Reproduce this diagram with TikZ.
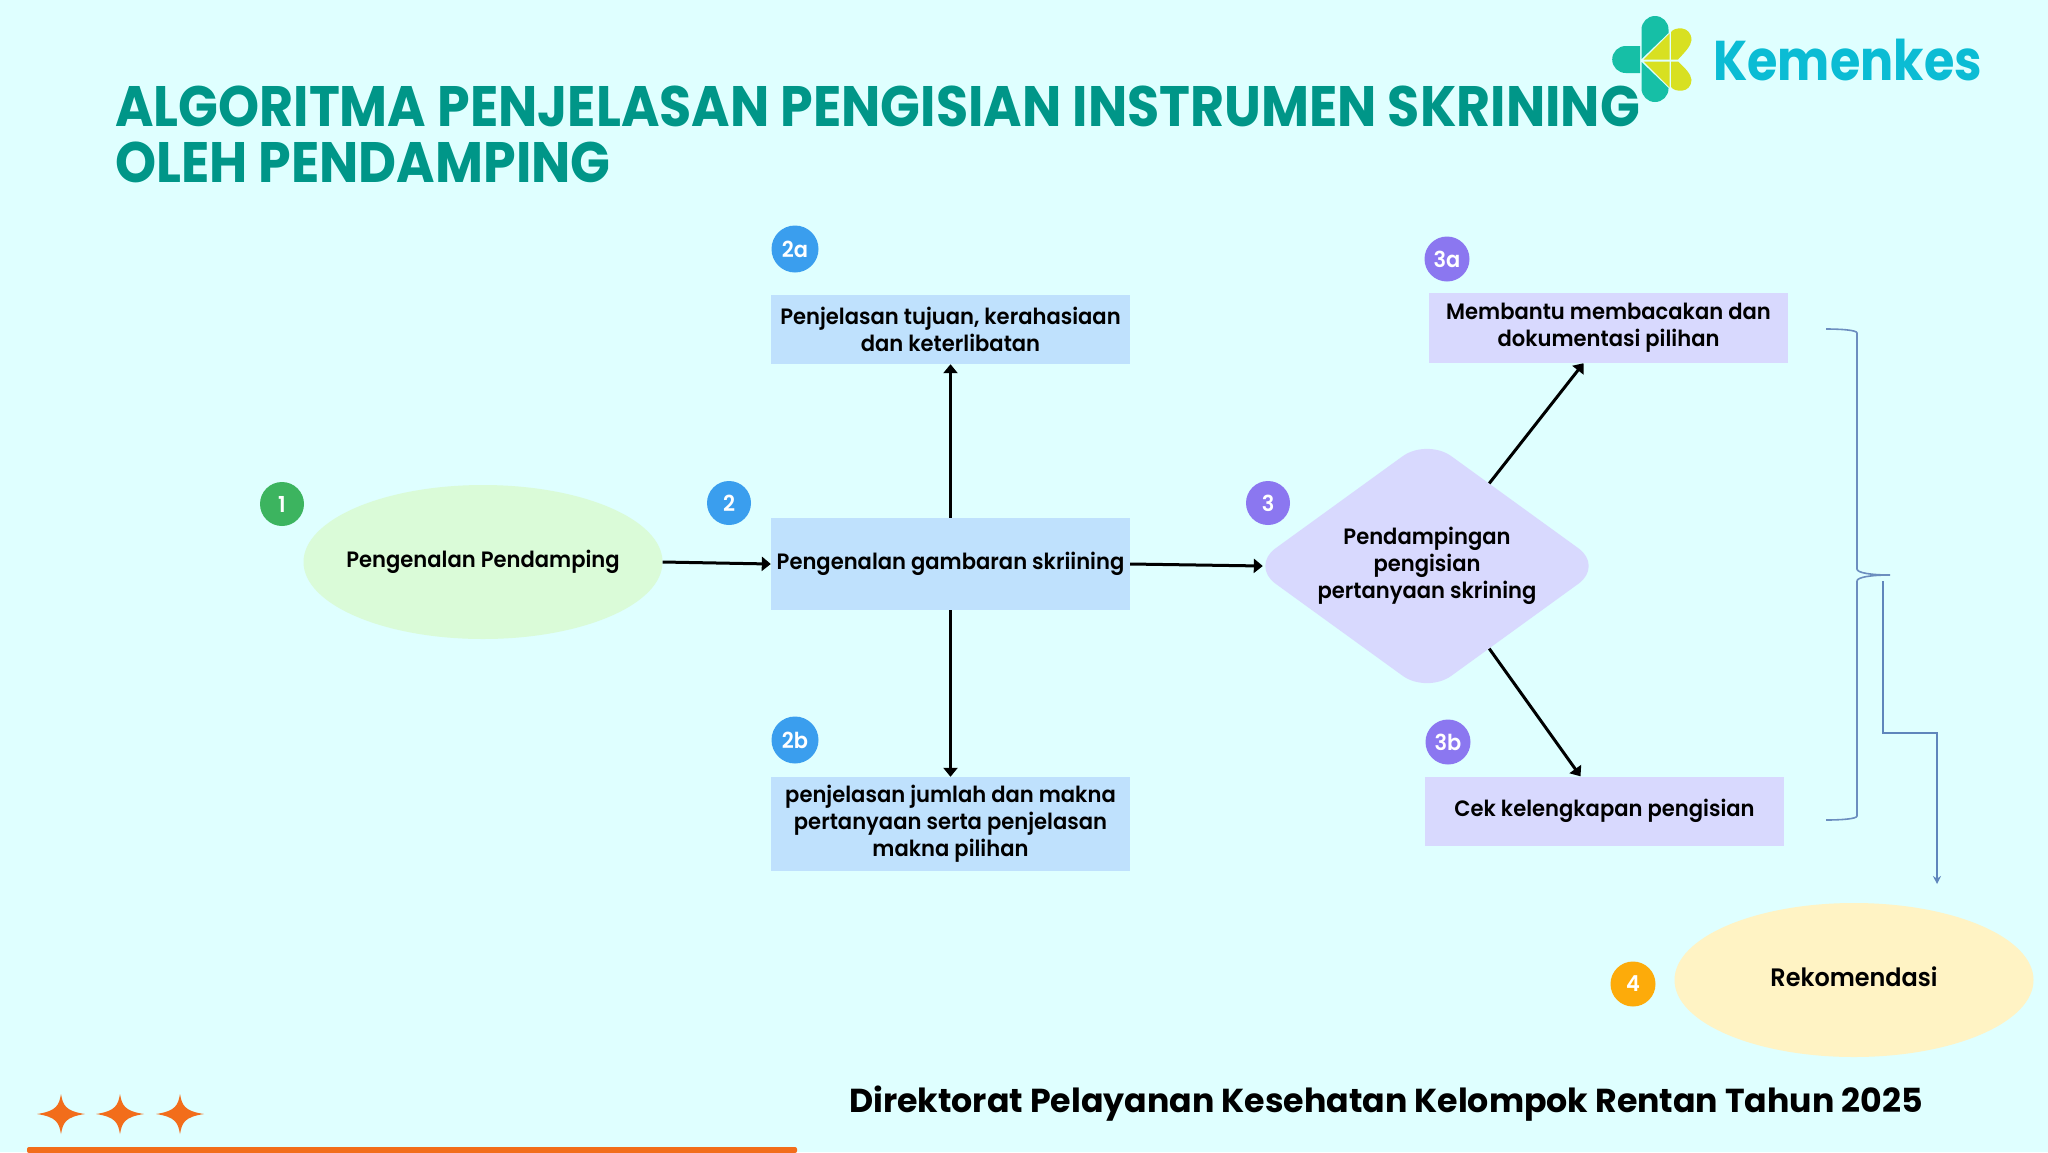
\documentclass[tikz,border=0pt]{standalone}
\usepackage{fontspec}
\setmainfont{Poppins}[UprightFont=* SemiBold,BoldFont=* Bold,FakeStretch=0.95]
\newfontfamily\titlefont{Poppins}[UprightFont=* Bold,FakeStretch=0.917]
\newfontfamily\logofont{Poppins}[UprightFont=* Bold,FakeStretch=0.88]
\newfontfamily\footfont{Poppins}[UprightFont=* Bold]
\usetikzlibrary{shapes.geometric,arrows.meta}
\definecolor{pagebg}{HTML}{DFFFFF}
\definecolor{titleteal}{HTML}{009688}
\definecolor{boxblue}{HTML}{BFE1FD}
\definecolor{boxlav}{HTML}{D8D9FE}
\definecolor{ovalgreen}{HTML}{DAFBD8}
\definecolor{ovalyellow}{HTML}{FFF3C4}
\definecolor{dotgreen}{HTML}{3CB45F}
\definecolor{dotblue}{HTML}{3A9EEE}
\definecolor{dotpurple}{HTML}{8B77F0}
\definecolor{dotorange}{HTML}{FDAB0A}
\definecolor{barorange}{HTML}{F26D1B}
\definecolor{logoteal}{HTML}{16BFA6}
\definecolor{logolime}{HTML}{D8E021}
\definecolor{logocyan}{HTML}{0BBCD4}
\definecolor{bracecol}{HTML}{6C8EBF}
\definecolor{elbowcol}{HTML}{5F86BC}
\tikzset{
  txt/.style={font=\fontsize{22.2}{27}\selectfont,align=center,text=black},
  stepbox/.style={txt,rectangle,inner sep=0pt,minimum width=359pt},
  oval/.style={txt,ellipse,inner sep=-50pt,minimum width=359pt,minimum height=154pt},
  dot/.style={circle,inner sep=0pt,minimum size=#1,text=white,font=\fontsize{22}{22}\selectfont},
  link/.style={line width=3pt,-{Triangle[length=9pt,width=14pt]}},
  spark/.pic={\fill[barorange] (0,-20) .. controls (2,-9) and (4,-3) .. (24,0)
     .. controls (4,3) and (2,9) .. (0,20) .. controls (-2,9) and (-4,3) .. (-24,0)
     .. controls (-4,-3) and (-2,-9) .. (0,-20) -- cycle;}
}
\begin{document}
\begin{tikzpicture}[x=1pt,y=-1pt]
\useasboundingbox (0,0) rectangle (2048,1152);
\fill[pagebg] (0,0) rectangle (2048,1152);
% logo
\fill[logoteal] (1641.5,59) -- (1641.5,29.5) arc (180:360:13.5) -- (1668.5,33) -- cycle;
\fill[logoteal] (1641.5,62) -- (1668.5,88) -- (1668.5,88.5) arc (0:180:13.5) -- cycle;
\fill[logoteal] (1640,46) -- (1625.7,46) arc (270:90:13.5) -- (1640,73) -- cycle;
\fill[logolime] (1643.5,59.5) -- (1669.5,33.5) -- (1669.5,59.5) -- cycle;
\fill[logolime] (1643.5,61.5) -- (1669.5,61.5) -- (1669.5,87.5) -- cycle;
\fill[logolime] (1671,59.5) -- (1671,32) .. controls (1674,27) and (1691,25) .. (1691.5,40) .. controls (1691,46) and (1685,52) .. (1678,59.5) -- cycle;
\fill[logolime] (1671,61.5) -- (1671,87) .. controls (1674,92) and (1691,94) .. (1691.5,80) .. controls (1691,74) and (1685,68) .. (1678,61.5) -- cycle;
\node[anchor=base west,inner sep=0pt,text=logocyan,font=\logofont\fontsize{56}{56}\selectfont] (logotxt) at (1713,80) {Kemenkes};
% title
\node[anchor=base west,inner sep=0pt,text=titleteal,font=\titlefont\fontsize{57}{57}\selectfont] (titleone) at (115,126) {ALGORITMA PENJELASAN PENGISIAN INSTRUMEN SKRINING};
\node[anchor=base west,inner sep=0pt,text=titleteal,font=\titlefont\fontsize{57}{57}\selectfont] (titletwo) at (115,182) {OLEH PENDAMPING};
% steps
\node[oval,fill=ovalgreen] (kenal) at (483,562) {Pengenalan Pendamping};
\node[stepbox,fill=boxblue,minimum height=92pt] (gambar) at (950.5,564) {\raisebox{-3pt}{Pengenalan gambaran skriining}};
\node[stepbox,fill=boxblue,minimum height=69pt] (tujuan) at (950.5,329.5) {Penjelasan tujuan, kerahasiaan\\dan keterlibatan};
\node[stepbox,fill=boxblue,minimum height=94pt] (jumlah) at (950.5,824) {penjelasan jumlah dan makna\\pertanyaan serta penjelasan\\makna pilihan};
\node[txt,diamond,rounded corners=30pt,fill=boxlav,inner sep=-36pt,aspect=1.33,minimum width=352pt,minimum height=255pt] (dampingan) at (1427,566) {Pendampingan\\pengisian\\pertanyaan skrining};
\node[stepbox,fill=boxlav,minimum height=70pt] (bacakan) at (1608.5,328) {Membantu membacakan dan\\dokumentasi pilihan};
\node[stepbox,fill=boxlav,minimum height=69pt] (cek) at (1604.5,811) {Cek kelengkapan pengisian};
\node[oval,fill=ovalyellow,font=\fontsize{25.2}{27}\selectfont] (rekom) at (1854,980) {\raisebox{7pt}{Rekomendasi}};
% number badges
\node[dot=44pt,fill=dotgreen] (nsatu) at (282,504) {1};
\node[dot=44pt,fill=dotblue] (ndua) at (729,503) {2};
\node[dot=44pt,fill=dotpurple] (ntiga) at (1268,503) {3};
\node[dot=47pt,fill=dotblue] (nduaa) at (795,249) {2a};
\node[dot=47pt,fill=dotblue] (nduab) at (795,740) {2b};
\node[dot=45pt,fill=dotpurple] (ntigaa) at (1447,259) {3a};
\node[dot=45pt,fill=dotpurple] (ntigab) at (1448,742) {3b};
\node[dot=45pt,fill=dotorange] (nempat) at (1633,984) {4};
% arrows
\draw[link] (kenal.east) -- (gambar.west);
\draw[link] (gambar.east) -- ([xshift=12pt]dampingan.west);
\draw[link] (gambar.north) -- (tujuan.south);
\draw[link] (gambar.south) -- (jumlah.north);
\draw[link] (dampingan.53) -- ([xshift=-25pt]bacakan.south);
\draw[link] (dampingan.-53) -- ([xshift=-24pt]cek.north);
% brace and link to Rekomendasi
\draw[bracecol,line width=1.6pt] (1826,329) .. controls (1840,329) and (1857,330) .. (1857,333) -- (1857,569)
  .. controls (1857,573) and (1872,575) .. (1890,575) .. controls (1872,575) and (1857,577) .. (1857,581) -- (1857,816)
  .. controls (1857,819) and (1840,820) .. (1826,820);
\coordinate (elbowstart) at (1883,581);
\coordinate (elbowend) at (1937,884);
\draw[elbowcol,line width=1.4pt,-{Stealth[length=8pt,width=8pt]}] (elbowstart) |- (1937,733) -- (elbowend);
% footer
\node[anchor=base west,inner sep=0pt,text=black,font=\footfont\fontsize{33.2}{33.2}\selectfont] (footer) at (849,1112) {Direktorat Pelayanan Kesehatan Kelompok Rentan Tahun 2025};
\pic at (61,1114) {spark};
\pic at (120,1114) {spark};
\pic at (180,1114) {spark};
\fill[barorange,rounded corners=2pt] (27,1147) rectangle (797,1153);
\end{tikzpicture}
\end{document}
